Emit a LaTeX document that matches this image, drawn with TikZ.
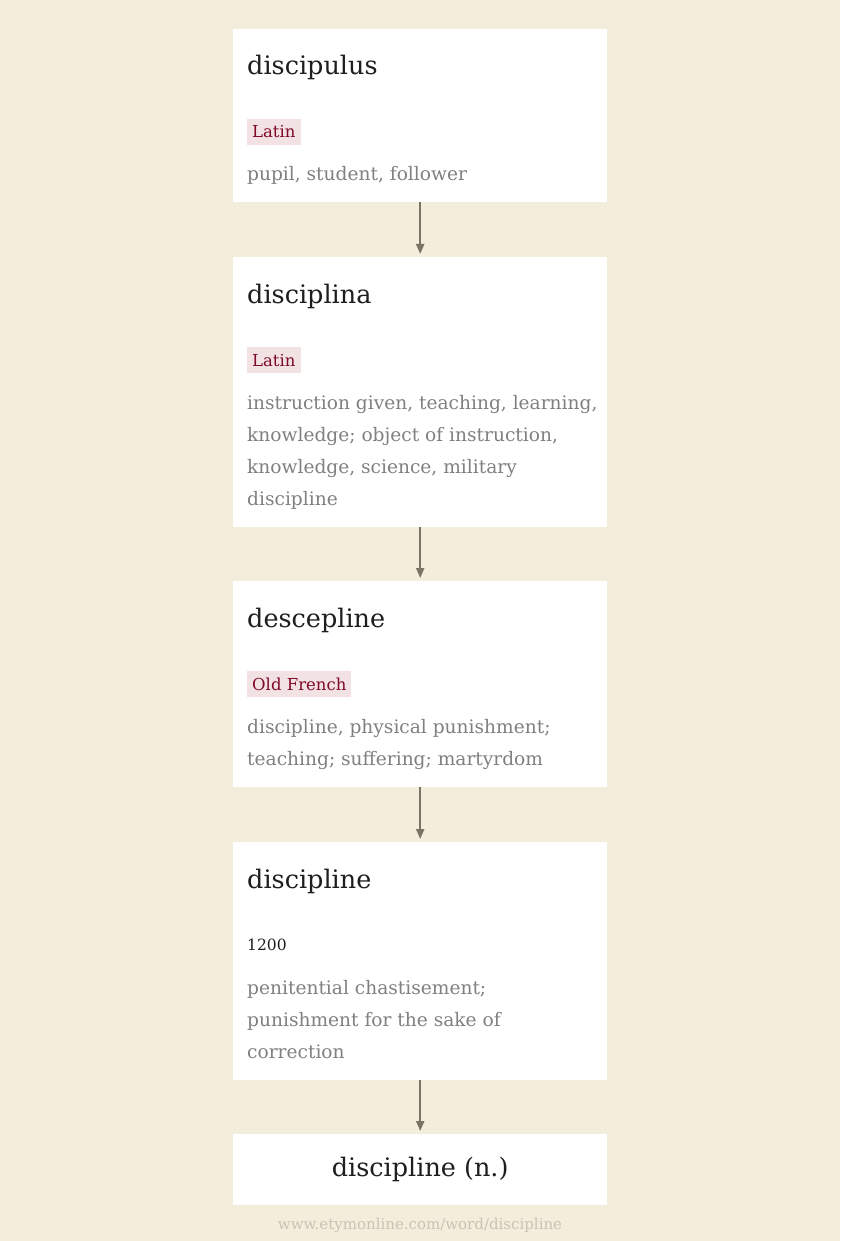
\documentclass[tikz,border=0pt]{standalone}
\usepackage{fontspec}
\setmainfont{DejaVu Serif}
\usepackage{tikz}
\usetikzlibrary{arrows.meta}
\usetikzlibrary{positioning}
\tikzset{card/.style = {fill = white, draw = none, anchor = north west, inner sep = 0, minimum width = 374}}
\tikzset{title/.style = {anchor = base west, inner sep = 0, text = ttext, font = \fontsize{25.5}{30}\selectfont}}
\tikzset{lang/.style = {anchor = base west, fill = tagbg, text = tagred, inner xsep = 5, inner ysep = 0, text height = 19, text depth = 7, font = \fontsize{16.5}{20}\selectfont}}
\tikzset{gloss/.style = {anchor = base west, inner sep = 0, text = gtext, align = left, font = \fontsize{18.6}{32}\selectfont}}
\tikzset{flow/.style = {draw = arr, line width = 2, -{Triangle[length = 10, width = 8]}, shorten >= 3}}
\definecolor{bg}{RGB}{243, 237, 219}
\definecolor{ttext}{RGB}{30, 30, 30}
\definecolor{gtext}{RGB}{128, 128, 128}
\definecolor{tagbg}{RGB}{242, 226, 228}
\definecolor{tagred}{RGB}{128, 10, 40}
\definecolor{arr}{RGB}{122, 116, 102}
\definecolor{foot}{RGB}{200, 195, 180}
\begin{document}
\begin{tikzpicture}[x = 1pt, y = -1pt]
  \fill [bg] (0, 0) rectangle (840, 1241);
  \useasboundingbox (0, 0) rectangle (840, 1241);
  % cards
  \node [card, minimum height = 173] (b1) at (233, 29) {};
  \node [card, minimum height = 270] (b2) at (233, 257) {};
  \node [card, minimum height = 206] (b3) at (233, 581) {};
  \node [card, minimum height = 238] (b4) at (233, 842) {};
  \node [card, minimum height = 71] (b5) at (233, 1134) {};
  % discipulus
  \node [title] (t1) at (247, 75) {discipulus};
  \node [lang] (l1) at (247, 138) {Latin};
  \node [gloss] (g1) at (247, 181) {pupil, student, follower};
  % disciplina (base = last line)
  \node [title] (t2) at (247, 303) {disciplina};
  \node [lang] (l2) at (247, 366) {Latin};
  \node [gloss] (g2) at (247, 505) {instruction given, teaching, learning,\\knowledge; object of instruction,\\knowledge, science, military\\discipline};
  % descepline
  \node [title] (t3) at (247, 627) {descepline};
  \node [lang] (l3) at (247, 690) {Old French};
  \node [gloss] (g3) at (247, 765) {discipline, physical punishment;\\teaching; suffering; martyrdom};
  % discipline
  \node [title] (t4) at (247, 888) {discipline};
  \node [anchor = base west, inner sep = 0, text = ttext, font = \fontsize{15.5}{18}\selectfont] (d4) at (247, 950) {1200};
  \node [gloss] (g4) at (247, 1058) {penitential chastisement;\\punishment for the sake of\\correction};
  % result
  \node [title, anchor = center, text height = 18, text depth = 5] (t5) at (b5.center) {discipline (n.)};
  \node [anchor = base, inner sep = 0, text = foot, font = \fontsize{15}{18}\selectfont] (url) at (420, 1229) {www.etymonline.com/word/discipline};
  % arrows
  \foreach \a/\b in {b1/b2, b2/b3, b3/b4, b4/b5} {
    \draw [flow] (\a.south) -- (\b.north);
  }
\end{tikzpicture}
\end{document}
